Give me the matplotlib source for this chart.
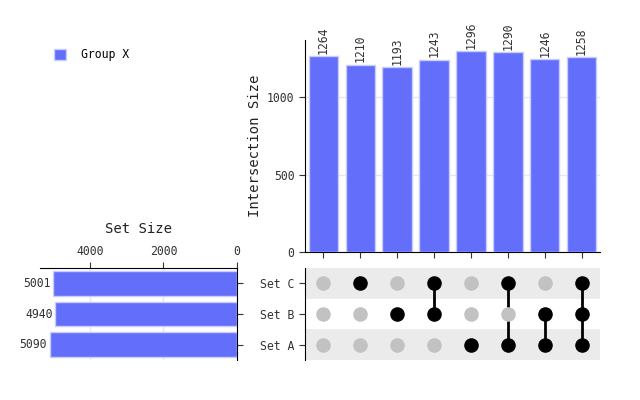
import matplotlib.pyplot as plt
from matplotlib.patches import Patch

plt.rcParams['font.family'] = ['DejaVu Sans Mono']
plt.rcParams['font.size'] = 8.3

sets = ['Set A', 'Set B', 'Set C']
set_sizes = [5090, 4940, 5001]
# membership per intersection column (A, B, C)
members = [
    (0, 0, 0),
    (0, 0, 1),
    (0, 1, 0),
    (0, 1, 1),
    (1, 0, 0),
    (1, 0, 1),
    (1, 1, 0),
    (1, 1, 1),
]
inter_sizes = [1264, 1210, 1193, 1243, 1296, 1290, 1246, 1258]

bar_color = '#636EFA'
edge_color = '#C8CCFF'

fig = plt.figure(figsize=(6.4, 4.0), dpi=100)
W, H = 640, 400

def add_ax(x0, y0, x1, y1):
    return fig.add_axes([x0 / W, 1 - y1 / H, (x1 - x0) / W, (y1 - y0) / H])

# intersection bars
ax_bar = add_ax(305, 40, 600, 252)
xs = list(range(len(inter_sizes)))
ax_bar.bar(xs, inter_sizes, width=0.8, color=bar_color, edgecolor=edge_color, linewidth=1, zorder=3)
for x, v in zip(xs, inter_sizes):
    ax_bar.text(x, v + 15, str(v), rotation=90, ha='center', va='bottom', fontsize=8.3, color='#333333')
ax_bar.set_xlim(-0.5, len(xs) - 0.5)
ax_bar.set_ylim(0, 1370)
ax_bar.set_yticks([0, 500, 1000])
ax_bar.set_xticks(xs)
ax_bar.set_xticklabels([])
ax_bar.grid(axis='y', color='#E8E8E8', linewidth=1, zorder=0)
for s in ['top', 'right']:
    ax_bar.spines[s].set_visible(False)
ax_bar.set_ylabel('Intersection Size', fontsize=10, color='#222222')
ax_bar.tick_params(colors='#333333', length=4)

# matrix
ax_mat = add_ax(305, 268, 600, 360)
ax_mat.set_xlim(-0.5, len(xs) - 0.5)
ax_mat.set_ylim(-0.5, len(sets) - 0.5)
for i in range(len(sets)):
    if i % 2 == 0:
        ax_mat.axhspan(i - 0.5, i + 0.5, color='#EBEBEB', zorder=0, lw=0)
for x, m in zip(xs, members):
    on = [i for i, f in enumerate(m) if f]
    if len(on) > 1:
        ax_mat.plot([x, x], [min(on), max(on)], color='black', lw=2, zorder=2)
    for i, f in enumerate(m):
        ax_mat.scatter(x, i, s=110, color='black' if f else '#C2C2C2', zorder=3, lw=0)
ax_mat.set_yticks(range(len(sets)))
ax_mat.set_yticklabels(sets)
ax_mat.set_xticks([])
for s in ['top', 'right', 'bottom']:
    ax_mat.spines[s].set_visible(False)
ax_mat.tick_params(colors='#333333', length=4)
ax_mat.tick_params(axis='y', pad=4)

# set sizes
ax_set = add_ax(40, 268, 237, 360)
ax_set.barh(range(len(sets)), set_sizes, height=0.8, color=bar_color, edgecolor=edge_color, linewidth=1, zorder=3)
for i, v in enumerate(set_sizes):
    ax_set.text(v + 80, i, str(v), ha='right', va='center', fontsize=8.3, color='#333333')
ax_set.set_xlim(5360, 0)
ax_set.set_ylim(-0.5, len(sets) - 0.5)
ax_set.set_xticks([4000, 2000, 0])
ax_set.xaxis.tick_top()
ax_set.xaxis.set_label_position('top')
ax_set.set_xlabel('Set Size', fontsize=10, color='#222222', labelpad=8)
ax_set.yaxis.tick_right()
ax_set.set_yticks(range(len(sets)))
ax_set.set_yticklabels([])
ax_set.grid(axis='x', color='#E8E8E8', linewidth=1, zorder=0)
for s in ['left', 'bottom']:
    ax_set.spines[s].set_visible(False)
ax_set.tick_params(colors='#333333', length=4)

# legend
fig.legend(handles=[Patch(facecolor=bar_color, edgecolor=edge_color, label='Group X')],
           loc='upper left', bbox_to_anchor=(44 / W, 1 - 38 / H), frameon=False,
           handlelength=1.0, handleheight=1.0, handletextpad=1.3, fontsize=8.3)

fig.savefig('out.png', dpi=100)
